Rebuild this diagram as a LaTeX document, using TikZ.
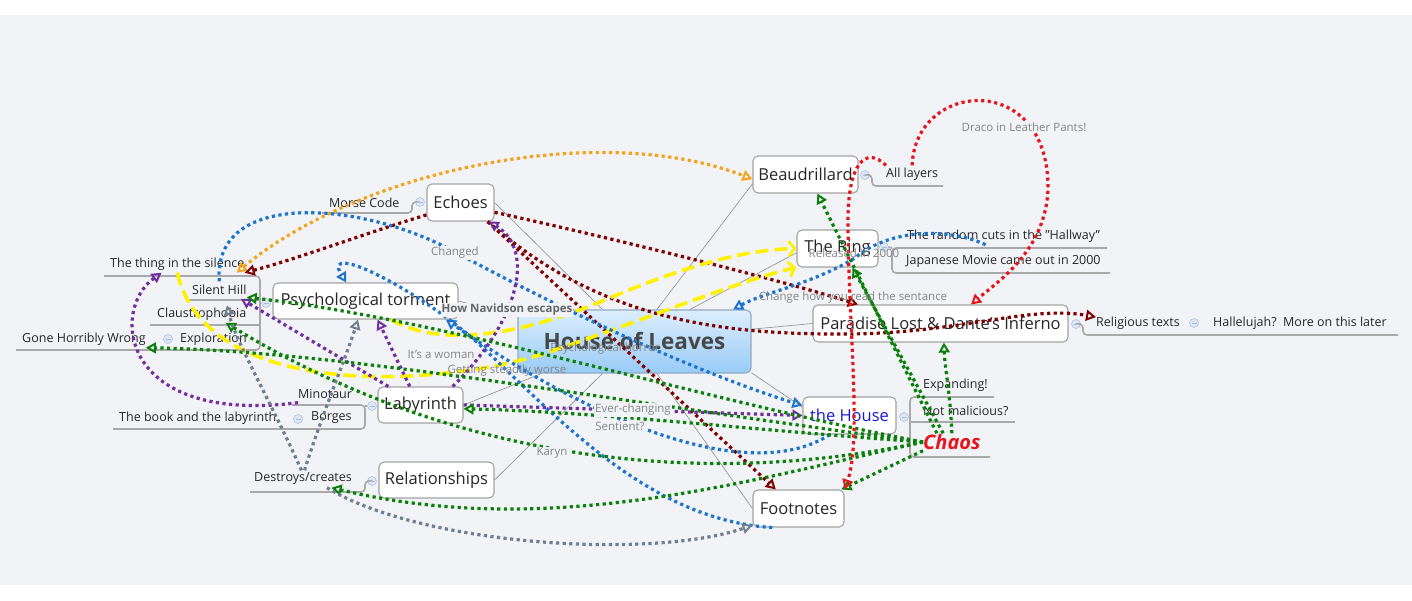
\documentclass[tikz,border=0pt]{standalone}
\usepackage{fontspec}
\setmainfont{Open Sans}
\usetikzlibrary{arrows.meta}
\begin{document}
\begin{tikzpicture}[x=1pt,y=-1pt]
\definecolor{cbg}{HTML}{F2F3F7}\definecolor{cbord}{HTML}{A3A3A3}\definecolor{cline}{HTML}{A9A9A9}
\definecolor{ctext}{HTML}{262626}\definecolor{clabel}{HTML}{858585}\definecolor{chouse}{HTML}{1A1ACF}
\definecolor{cfold}{HTML}{DCE6F4}\definecolor{cfoldd}{HTML}{A9BEDD}
\definecolor{chol1}{HTML}{DDEEFE}\definecolor{chol2}{HTML}{98CBF6}\definecolor{cholb}{HTML}{8FA9C6}\definecolor{cholt}{HTML}{474747}
\definecolor{cmaroon}{HTML}{800000}\definecolor{corange}{HTML}{F5A31A}\definecolor{cyellow}{HTML}{FFF200}
\definecolor{cblue}{HTML}{1C74CE}\definecolor{cpurple}{HTML}{7030A0}\definecolor{cgreen}{HTML}{0A800A}
\definecolor{cslate}{HTML}{6F7F8F}\definecolor{cred}{HTML}{E8141B}
\tikzset{topic/.style={rounded corners=5pt,draw=cbord,fill=white,line width=1.1pt,inner sep=0pt,font=\fontsize{16.5}{19}\selectfont,text=ctext},
 sub/.style={inner sep=0pt,minimum height=17pt,anchor=west,font=\fontsize{12.5}{14}\selectfont,text=ctext},
 uline/.style={draw=cline,line width=1.6pt,rounded corners=4pt},
 fold/.style={circle,draw=cfoldd,fill=cfold,minimum size=9pt,inner sep=0pt,line width=0.5pt,
  path picture={\draw[cfoldd,line width=0.8pt] ([xshift=-2.5pt]path picture bounding box.center) -- ([xshift=2.5pt]path picture bounding box.center);}},
 branch/.style={draw=black!45,line width=0.6pt},
 >={Triangle[open,length=10pt,width=11pt,line width=2pt]},
 rel/.style={line width=3.2pt,dash pattern=on 3.2pt off 3.4pt,->},
 relboth/.style={line width=3.2pt,dash pattern=on 3.2pt off 3.4pt,<->},
 yel/.style={draw=cyellow,line width=3.6pt,dash pattern=on 13pt off 6pt,-{Straight Barb[length=6pt,width=15pt,line width=2.8pt]}},
 lbl/.style={text=clabel,inner sep=1pt,font=\fontsize{11.5}{13}\selectfont}}
\fill[white] (0,0) rectangle (1412,601);
\fill[cbg] (0,15) rectangle (1412,585);
\useasboundingbox (0,0) rectangle (1412,601);
\node[topic,minimum width=233pt,minimum height=63pt,top color=chol1,bottom color=chol2,draw=cholb,font=\bfseries\fontsize{22.5}{26}\selectfont,text=cholt] (hol) at (634.5,341.5) {House of Leaves};
\node[topic,minimum width=67pt,minimum height=37pt] (echoes) at (460.5,202.5) {Echoes};
\node[topic,minimum width=185pt,minimum height=36pt] (psych) at (365.5,301) {Psychological torment};
\node[topic,minimum width=85pt,minimum height=36pt] (laby) at (420.5,405) {Labyrinth};
\node[topic,minimum width=115pt,minimum height=36pt] (rel) at (436.5,480) {Relationships};
\node[topic,minimum width=105pt,minimum height=37pt] (beau) at (805.5,174.5) {Beaudrillard};
\node[topic,minimum width=81pt,minimum height=37pt] (ring) at (837.5,248.5) {The Ring};
\node[topic,minimum width=255pt,minimum height=37pt] (para) at (940.5,323.5) {Paradise Lost \& Dante's Inferno};
\node[topic,minimum width=93pt,minimum height=37pt,text=chouse] (house) at (849.5,415.5) {the House};
\node[topic,minimum width=91pt,minimum height=37pt] (foot) at (798.5,508.5) {Footnotes};
\draw[branch] (echoes.east) -- (hol.135);
\draw[branch] (psych.east) -- (hol.168);
\draw[branch] (laby.east) -- (hol.199);
\draw[branch] (rel.east) -- (hol.225);
\draw[branch] (hol.55) -- (beau.190);
\draw[branch] (hol.30) -- (ring.186);
\draw[branch] (hol.6) -- (para.west);
\draw[branch] (hol.-15) -- (house.170);
\draw[branch] (hol.-55) -- (foot.west);
\node[sub] (silence) at (110,264) {The thing in the silence};
\node[sub] (silent) at (192,290) {Silent Hill};
\node[sub] (claus) at (157,314) {Claustrophobia};
\node[sub] (explo) at (180,339) {Exploration};
\node[sub] (gone) at (22,339) {Gone Horribly Wrong};
\node[sub] (morse) at (329,203) {Morse Code};
\node[sub] (mino) at (298,394) {Minotaur};
\node[sub] (borges) at (311,418) {Borges};
\node[sub] (book) at (119,418) {The book and the labyrinth};
\node[sub] (destroys) at (254,479) {Destroys/creates};
\node[sub] (layers) at (886,174) {All layers};
\node[sub] (cuts) at (907,236) {The random cuts in the "Hallway"};
\node[sub] (japan) at (906,261) {Japanese Movie came out in 2000};
\node[sub] (relig) at (1096,323) {Religious texts};
\node[sub] (hall) at (1213,323) {Hallelujah?\ \ More on this later};
\node[sub] (expand) at (923,385) {Expanding!};
\node[sub] (malic) at (923,411) {Not malicious?};
\node[sub,font=\bfseries\itshape\fontsize{20}{22}\selectfont,text=cred] (chaos) at (923,442) {Chaos};
\node[fold] (fpsych) at (266,303) {};
\node[fold] (fecho) at (420,202) {};
\node[fold] (flaby) at (372,406) {};
\node[fold] (fborg) at (298,419) {};
\node[fold] (frel) at (372,481) {};
\node[fold] (fexpl) at (168,339) {};
\node[fold] (fbeau) at (865,175) {};
\node[fold] (fring) at (884,247) {};
\node[fold] (fpara) at (1076,324) {};
\node[fold] (frelig) at (1194,323) {};
\node[fold] (fhouse) at (904,417) {};
\draw[uline] (104,276) -- (260,276) -- (260,350) -- (16,350);
\draw[uline] (fpsych.west) -- (260,303);
\draw[uline] (187,300) -- (260,300);
\draw[uline] (150,325) -- (260,325);
\draw[uline] (fecho.west) -| (412,213) -- (322,213);
\draw[uline] (292,405) -- (365,405) -- (365,429) -- (113,429);
\draw[uline] (flaby.west) -- (365,406);
\draw[uline] (frel.west) -| (365,492) -- (250,492);
\draw[uline] (fbeau.east) -| (872,186) -- (943,186);
\draw[uline] (1107,248) -- (892,248) -- (892,273) -- (1110,273);
\draw[uline] (fring.east) -- (892,248);
\draw[uline] (fpara.east) -| (1083,335) -- (1398,335);
\draw[uline] (fhouse.east) -- (910,417);
\draw[uline] (994,397) -- (910,397) -- (910,457) -- (990,457);
\draw[uline] (910,422) -- (1015,422);
\draw[relboth,corange] ([xshift=-8pt]silence.south east) .. controls (360,170) and (600,120) .. (beau.185);
\draw[rel,cmaroon] (echoes.200) .. controls (360,235) and (300,258) .. (silence.south east);
\draw[rel,cmaroon] (echoes.-16) .. controls (620,240) and (780,280) .. (para.167);
\draw[rel,cmaroon] (echoes.-35) -- (foot.140);
\draw[rel,cmaroon] (echoes.-35) .. controls (600,320) and (720,335) .. (850,334) .. controls (960,333) and (1030,305) .. (relig.172);
\draw[yel] (silence.south) .. controls (205,395) and (420,390) .. (540,355) .. controls (640,322) and (740,280) .. (ring.south west);
\draw[yel] (psych.-36) .. controls (440,348) and (520,335) .. (600,302) .. controls (680,268) and (740,250) .. (ring.west);
\draw[rel,cblue] (silent.north) .. controls (212,190) and (360,200) .. (455,252) .. controls (600,330) and (720,380) .. (house.168);
\draw[rel,cblue] (foot.216) .. controls (650,520) and (560,420) .. (480,345) .. controls (420,290) and (320,240) .. (psych.136);
\draw[rel,cblue] (house.224) .. controls (760,480) and (620,440) .. (psych.-13);
\draw[rel,cblue] ([xshift=-18pt]cuts.south) .. controls (950,228) and (890,228) .. (855,258) .. controls (810,285) and (765,292) .. (hol.18);
\draw[rel,cpurple] (mino.south west) .. controls (120,425) and (110,310) .. (silence.209);
\draw[rel,cpurple] (laby.150) -- (silent.-22);
\draw[rel,cpurple] (laby.120) -- (psych.-57);
\draw[rel,cpurple] (laby.30) .. controls (520,320) and (535,250) .. (echoes.-34);
\draw[rel,cpurple] (laby.east) -- (house.west);
\draw[rel,cgreen] (chaos.west) .. controls (700,400) and (450,320) .. (silent.-15);
\draw[rel,cgreen] (chaos.west) .. controls (700,490) and (450,460) .. (claus.-20);
\draw[rel,cgreen] (chaos.west) .. controls (600,400) and (350,352) .. (gone.south east);
\draw[rel,cgreen] (chaos.west) .. controls (750,430) and (600,412) .. (laby.-5);
\draw[rel,cgreen] (chaos.west) .. controls (750,480) and (550,540) .. (destroys.-17);
\draw[rel,cgreen] (chaos.south west) -- (foot.24);
\draw[rel,cgreen] (chaos.north) .. controls (950,390) and (945,370) .. (para.-80);
\draw[rel,cgreen] (chaos.135) -- (ring.-52);
\draw[rel,cgreen] (chaos.150) -- (beau.-58);
\draw[rel,cslate] (destroys.100) .. controls (270,400) and (235,340) .. (claus.19);
\draw[rel,cslate] (destroys.80) .. controls (320,420) and (345,360) .. (psych.248);
\draw[rel,cslate] (destroys.-20) .. controls (420,545) and (650,560) .. (foot.200);
\draw[rel,cred] (layers.north) .. controls (915,80) and (1050,70) .. (1048,190) .. controls (1045,250) and (1000,280) .. (para.32);
\draw[rel,cred] (layers.north west) .. controls (865,145) and (848,165) .. (848,220) .. controls (848,320) and (862,440) .. (foot.north east);
\node[lbl,fill=cbg] (lchanged) at (455,253) {Changed};
\node[lbl,fill=cbg,font=\bfseries\fontsize{11.5}{13}\selectfont,text=black!60] (lnavid) at (507,310) {How Navidson escapes};
\node[lbl] (lwoman) at (441,354) {It's a woman};
\node[lbl] (lhorror) at (605,349) {Psychological horror};
\node[lbl] (lworse) at (507,371) {Getting steadily worse};
\node[lbl,fill=cbg] (lever) at (633,410) {Ever-changing};
\node[lbl,fill=cbg] (lsent) at (620,426) {Sentient?};
\node[lbl,fill=cbg] (lkaryn) at (552,453) {Karyn};
\node[lbl] (lrel2000) at (854,253) {Released in 2000};
\node[lbl] (lchange) at (853,298) {Change how you read the sentance};
\node[lbl,fill=cbg] (ldraco) at (1024,127) {Draco in Leather Pants!};
\end{tikzpicture}
\end{document}
